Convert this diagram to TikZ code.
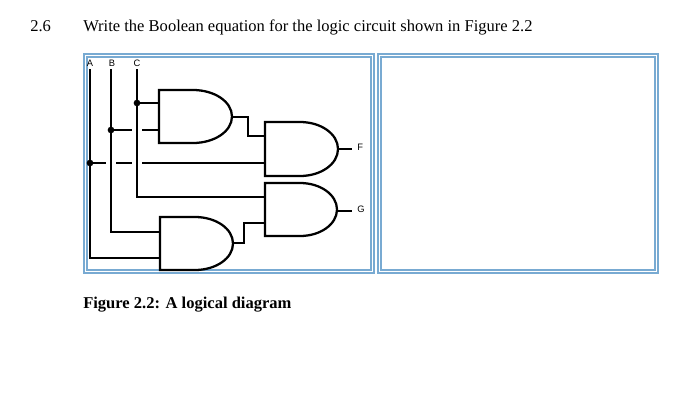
\documentclass[tikz,border=0pt]{standalone}
\usepackage{fontspec}
\setmainfont{Liberation Serif}
\setsansfont{Liberation Sans}
\definecolor{bx}{RGB}{120,170,210}
\begin{document}
\begin{tikzpicture}[x=0.75pt,y=-0.75pt,
  wire/.style={line width=1.7pt,black},
  gap/.style={line width=5pt,white},
  dot/.style={circle,fill=black,inner sep=0pt,minimum size=5pt},
  lbl/.style={font=\sffamily\fontsize{7}{8}\selectfont,inner sep=0pt},
  frame/.style={draw=bx,line width=0.8pt}]
\useasboundingbox (0,0) rectangle (700,400);
\newcommand{\gatep}[5]{\draw[wire] (#1,#2) -- (#3,#2) .. controls ({#3+0.55*(#4-#3)},#2) and (#4,{(#2+#5)/2-0.28*(#5-#2)}) .. (#4,{(#2+#5)/2}) .. controls (#4,{(#2+#5)/2+0.28*(#5-#2)}) and ({#3+0.55*(#4-#3)},#5) .. (#3,#5) -- (#1,#5) -- cycle;}
% text
\node[anchor=base west,font=\fontsize{12.4}{14}\selectfont,inner sep=0pt] (num) at (30,31) {2.6};
\node[anchor=base west,font=\fontsize{12.4}{14}\selectfont,inner sep=0pt] (q) at (83,31) {Write the Boolean equation for the logic circuit shown in Figure 2.2};
\node[anchor=base west,font=\bfseries\fontsize{12.4}{14}\selectfont,inner sep=0pt] (cap) at (83,308) {Figure 2.2: A logical diagram};
% frames
\draw[frame] (84,54) rectangle (374,273);
\draw[frame] (87,57) rectangle (371,270);
\draw[frame] (378,54) rectangle (658,273);
\draw[frame] (381,57) rectangle (655,270);
% labels
\node[lbl] (la) at (90,63) {A};
\node[lbl] (lb) at (112,63) {B};
\node[lbl] (lc) at (137,63) {C};
% input lines
\coordinate (A0) at (90,69); \coordinate (B0) at (111,69); \coordinate (C0) at (137,69);
\draw[wire] (A0) -- (90,258) -- (160,258);
\draw[wire] (B0) -- (111,232) -- (160,232);
\draw[wire] (C0) -- (137,197) -- (265,197);
% crossing wires with gaps
\draw[wire] (111,130) -- (159,130);
\draw[gap] (132,130) -- (142,130);
\draw[wire] (137,124) -- (137,136);
\draw[wire] (90,163) -- (265,163);
\draw[gap] (106,163) -- (116,163);
\draw[gap] (132,163) -- (142,163);
\draw[wire] (111,157) -- (111,169);
\draw[wire] (137,157) -- (137,169);
\draw[wire] (137,103) -- (159,103);
\node[dot] (d1) at (137,103) {};
\node[dot] (d2) at (111,130) {};
\node[dot] (d3) at (90,163) {};
% gates
\gatep{159}{90}{193}{232}{143}
\gatep{265}{122}{300}{338}{176}
\gatep{265}{183}{300}{337}{236}
\gatep{160}{217}{195}{233}{270}
% internal wires
\draw[wire] (232,117) -- (248,117) -- (248,136) -- (265,136);
\draw[wire] (233,243) -- (244,243) -- (244,223) -- (265,223);
\draw[wire] (338,149) -- (352,149);
\draw[wire] (337,211) -- (352,211);
\node[lbl,anchor=west] (F) at (357,147) {F};
\node[lbl,anchor=west] (G) at (357,209) {G};
\end{tikzpicture}
\end{document}
